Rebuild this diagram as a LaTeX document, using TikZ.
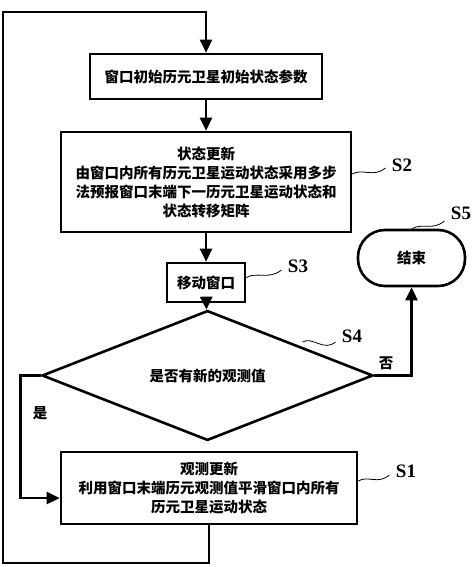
\documentclass[tikz,border=0pt]{standalone}
\usepackage{fontspec}
\setmainfont{Noto Sans CJK SC}
\newfontfamily\tagfont{Liberation Serif}
\usetikzlibrary{arrows.meta,shapes.geometric,calc}

\begin{document}
\begin{tikzpicture}[
  x=1pt, y=-1pt,
  every node/.style={font=\fontsize{14.5}{19}\selectfont\bfseries},
  box/.style={draw, line width=2.6pt, align=center, inner sep=0pt},
  flow/.style={line width=2.6pt, -{Triangle[length=13pt,width=12pt]}},
  wave/.style={line width=0.8pt},
  tag/.style={font=\tagfont\fontsize{19}{19}\selectfont\bfseries},
]

% Frame (pixels of the page)
\useasboundingbox (0,0) rectangle (474,567);

% Steps
\node[box, minimum width=232pt, minimum height=45pt] (init) at (206,76.5)
  {窗口初始历元卫星初始状态参数};
\node[box, minimum width=290pt, minimum height=100pt] (upd) at (206,182)
  {状态更新\\由窗口内所有历元卫星运动状态采用多步\\法预报窗口末端下一历元卫星运动状态和\\状态转移矩阵};
\node[box, minimum width=78pt, minimum height=39pt] (move) at (206,282.5)
  {移动窗口};
\node[box, diamond, minimum width=331pt, minimum height=83pt] (check) at (207.5,375.5)
  {是否有新的观测值};
\node[box, minimum width=296pt, minimum height=72pt] (obs) at (209,488)
  {观测更新\\利用窗口末端历元观测值平滑窗口内所有\\历元卫星运动状态};
\node[box, rounded corners=27pt, minimum width=107pt, minimum height=56pt] (done) at (411.5,258)
  {结束};

% Main flow
\draw[flow] (init) -- (upd);
\draw[flow] (upd) -- (move);
\draw[flow] (move) -- (check);

% Branches
\draw[flow] (check.west) -- ++(-20,0) |- ([yshift=-10pt]obs.west);
\draw[flow] (check.east) -| (done.south);
\node (yes) at (40,413) {是};
\node (no) at (386,363) {否};

% Loop back to the top
\coordinate (loopbl) at (3,563);
\coordinate (looptl) at (3,12);
\draw[flow] (obs.south) |- (loopbl) -- (looptl) -| (init.north);

% Step labels
\node[tag] (s2) at (402,165) {S2};
\node[tag] (s3) at (298,266) {S3};
\node[tag] (s4) at (352,336) {S4};
\node[tag] (s5) at (461,213) {S5};
\node[tag] (s1) at (406,471) {S1};

\draw[wave] ([yshift=8pt]upd.east) .. controls +(10,-6) and +(-12,10) .. ([xshift=-3pt,yshift=-3pt]s2.west);
\draw[wave] ([yshift=5pt]move.east) .. controls +(10,-6) and +(-12,10) .. ([xshift=-3pt,yshift=-4pt]s3.west);
\draw[wave] ([yshift=5pt]$(check.north)!0.57!(check.east)$) .. controls +(10,-6) and +(-12,10) .. ([xshift=-3pt,yshift=-6pt]s4.west);
\draw[wave] ([xshift=0.5pt]done.north) .. controls +(10,-6) and +(-12,10) .. ([xshift=-3pt,yshift=-8pt]s5.west);
\draw[wave] ([yshift=7pt]obs.east) .. controls +(10,-6) and +(-12,10) .. ([xshift=-3pt,yshift=-4pt]s1.west);

\end{tikzpicture}
\end{document}
